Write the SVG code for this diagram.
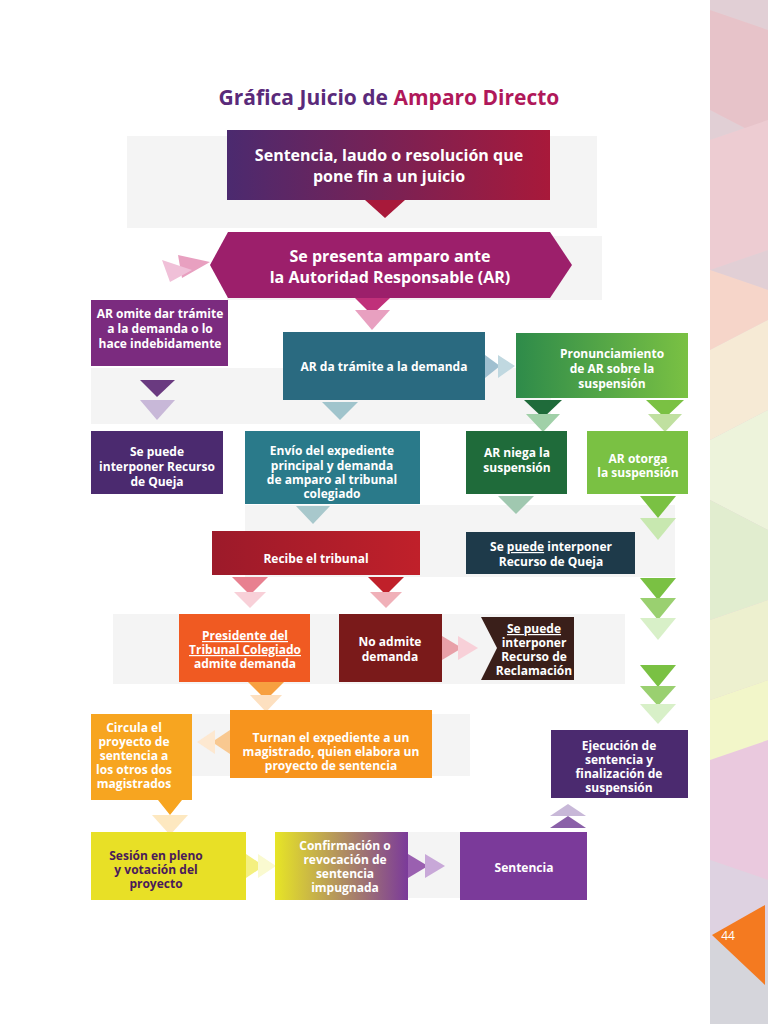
<svg xmlns="http://www.w3.org/2000/svg" width="768" height="1024" viewBox="0 0 768 1024">
<style>
text{font-family:"Open Sans","Liberation Sans",sans-serif;font-weight:bold;fill:#fff;text-anchor:middle}
.s{font-size:12px}.m{font-size:16px}
.pan{fill:#f4f4f4}
</style>
<defs>
<linearGradient id="g1" x1="0" x2="1"><stop offset="0" stop-color="#4b2a6f"/><stop offset="1" stop-color="#a8193a"/></linearGradient>
<linearGradient id="g2" x1="0" x2="1"><stop offset="0" stop-color="#e7e526"/><stop offset="1" stop-color="#7b3a9a"/></linearGradient>
<linearGradient id="g3" x1="0" x2="1"><stop offset="0" stop-color="#2e8b4a"/><stop offset="1" stop-color="#7ac143"/></linearGradient>
<linearGradient id="g4" x1="0" x2="1"><stop offset="0" stop-color="#9c1a2a"/><stop offset="1" stop-color="#c0202a"/></linearGradient>
</defs>
<rect width="768" height="1024" fill="#fff"/>
<g id="strip" opacity="0.75">
<rect x="710" y="0" width="58" height="1024" fill="#d8c0c8"/>
<polygon points="710,10 768,30 768,140 710,110" fill="#e0b0b8"/>
<polygon points="710,140 768,120 768,250 710,270" fill="#e8bcc4"/>
<polygon points="710,270 768,290 768,320 710,350" fill="#f4c8b8"/>
<polygon points="710,350 768,320 768,410 710,440" fill="#f4e4c8"/>
<polygon points="710,440 768,410 768,530 710,500" fill="#e8f0d0"/>
<polygon points="710,500 768,530 768,600 710,620" fill="#d8e8c0"/>
<polygon points="710,620 768,600 768,680 710,700" fill="#e8ecc0"/>
<polygon points="710,700 768,680 768,770 710,760" fill="#eef4b8"/>
<polygon points="710,760 768,740 768,880 710,860" fill="#e4b8d4"/>
<polygon points="710,860 768,880 768,960 710,940" fill="#d4c4d8"/>
<rect x="710" y="940" width="58" height="84" fill="#c8c8d0"/>
</g>
<g id="page"><polygon points="712,935 765,905 765,985" fill="#f47a20"/>
<text x="728" y="940" style="font-size:12px;font-weight:normal">44</text></g>
<text x="389" y="105" style="font-size:21px;fill:#5a2a7a">Gráfica Juicio de <tspan fill="#b0185a">Amparo Directo</tspan></text>
<g id="panels" class="pan">
<rect x="127" y="136" width="470" height="92"/>
<rect x="227" y="236" width="375" height="64"/>
<rect x="91" y="368" width="460" height="56"/>
<rect x="245" y="505" width="430" height="72"/>
<rect x="113" y="614" width="512" height="70"/>
<rect x="180" y="714" width="290" height="62"/>
<rect x="291" y="832" width="270" height="66"/>
</g>
<g id="connectors">
<polygon points="365,200 405,200 385,218" fill="#a8193a"/>
<polygon points="355,298 390,298 372,315" fill="#c0307a"/>
<polygon points="355,310 390,310 372,330" fill="#e8a0c0"/>
<polygon points="178,255 210,262 182,278" fill="#e8a0c0"/>
<polygon points="162,260 192,270 170,282" fill="#f0c0d8"/>
<polygon points="140,380 175,380 157,397" fill="#6a3a80"/>
<polygon points="140,400 175,400 157,420" fill="#c8b8d8"/>
<polygon points="485,355 500,366 485,378" fill="#a0c0d0"/>
<polygon points="498,355 515,366 498,378" fill="#c0d8e0"/>
<polygon points="322,402 358,402 340,420" fill="#a0c4cc"/>
<polygon points="524,400 562,400 543,418" fill="#1f6b3a"/>
<polygon points="526,414 560,414 543,432" fill="#a0d0a8"/>
<polygon points="646,400 684,400 665,418" fill="#7ac143"/>
<polygon points="648,414 682,414 665,432" fill="#c0e0a0"/>
<polygon points="498,496 534,496 516,514" fill="#a0c8b0"/>
<polygon points="296,506 330,506 313,524" fill="#a8c8cc"/>
<polygon points="640,496 676,496 658,518" fill="#7ac143"/>
<polygon points="640,518 676,518 658,540" fill="#c8e8b0"/>
<polygon points="640,578 676,578 658,600" fill="#7ac143"/>
<polygon points="640,598 676,598 658,620" fill="#9ad070"/>
<polygon points="640,618 676,618 658,640" fill="#d8f0c8"/>
<polygon points="640,665 676,665 658,687" fill="#7ac143"/>
<polygon points="640,686 676,686 658,706" fill="#9ad070"/>
<polygon points="640,704 676,704 658,724" fill="#d8f0c8"/>
<polygon points="232,577 268,577 250,595" fill="#e88090"/>
<polygon points="234,592 266,592 250,608" fill="#f8d0d8"/>
<polygon points="368,577 404,577 386,595" fill="#c0202a"/>
<polygon points="370,592 402,592 386,608" fill="#f0b0b8"/>
<polygon points="442,636 462,648 442,660" fill="#e8a0a8"/>
<polygon points="458,636 478,648 458,660" fill="#f8d0d8"/>
<polygon points="248,682 284,682 266,700" fill="#f7a040"/>
<polygon points="250,695 282,695 266,712" fill="#fde0c0"/>
<polygon points="230,730 212,742 230,754" fill="#f8c890"/>
<polygon points="215,730 197,742 215,754" fill="#fde8d0"/>
<polygon points="152,815 188,815 170,835" fill="#fde8c0"/>
<polygon points="246,854 264,866 246,878" fill="#f4f080"/>
<polygon points="258,854 276,866 258,878" fill="#fafad0"/>
<polygon points="408,854 428,866 408,878" fill="#9a60b0"/>
<polygon points="425,854 445,866 425,878" fill="#c8a8d8"/>
<polygon points="550,816 568,804 586,816" fill="#c8b8d8"/>
<polygon points="550,828 568,816 586,828" fill="#8a60a8"/>
</g>
<g id="n1"><rect x="227" y="130" width="323" height="70" fill="url(#g1)"/><text class="m" x="389" y="161">Sentencia, laudo o resolución que</text><text class="m" x="389" y="182">pone fin a un juicio</text></g>
<g id="n2"><polygon points="228,232 550,232 572,265 550,298 228,298 210,265" fill="#9c1f6b"/><text class="m" x="390" y="262">Se presenta amparo ante</text><text class="m" x="390" y="283">la Autoridad Responsable (AR)</text></g>
<g id="n3"><rect x="91" y="300" width="137" height="66" fill="#7b2b7f"/><text class="s" x="160" y="318">AR omite dar trámite</text><text class="s" x="160" y="333">a la demanda o lo</text><text class="s" x="160" y="348">hace indebidamente</text></g>
<g id="n4"><rect x="283" y="332" width="202" height="68" fill="#2a6a80"/><text class="s" x="384" y="371">AR da trámite a la demanda</text></g>
<g id="n5"><rect x="516" y="333" width="172" height="65" fill="url(#g3)"/><text class="s" x="612" y="358">Pronunciamiento</text><text class="s" x="612" y="373">de AR sobre la</text><text class="s" x="612" y="388">suspensión</text></g>
<g id="n6"><rect x="91" y="431" width="132" height="63" fill="#4b2a6f"/><text class="s" x="157" y="456">Se puede</text><text class="s" x="157" y="471">interponer Recurso</text><text class="s" x="157" y="486">de Queja</text></g>
<g id="n7"><rect x="245" y="431" width="175" height="73" fill="#2a7a8a"/><text class="s" x="332" y="455">Envío del expediente</text><text class="s" x="332" y="470">principal y demanda</text><text class="s" x="332" y="484">de amparo al tribunal</text><text class="s" x="332" y="498">colegiado</text></g>
<g id="n8"><rect x="466" y="431" width="101" height="63" fill="#1f6b3a"/><text class="s" x="517" y="457">AR niega la</text><text class="s" x="517" y="472">suspensión</text></g>
<g id="n9"><rect x="587" y="431" width="101" height="63" fill="#7ac143"/><text class="s" x="638" y="463">AR otorga</text><text class="s" x="638" y="477">la suspensión</text></g>
<g id="n10"><rect x="466" y="532" width="169" height="42" fill="#1e3a4a"/><text x="551" y="551" style="font-size:12px">Se <tspan text-decoration="underline">puede</tspan> interponer</text><text x="551" y="566" style="font-size:12px">Recurso de  Queja</text></g>
<g id="n11"><rect x="212" y="531" width="208" height="44" fill="url(#g4)"/><text class="s" x="316" y="563">Recibe el tribunal</text></g>
<g id="n12"><rect x="179" y="614" width="131" height="68" fill="#f05a22"/><text class="s" x="245" y="640" text-decoration="underline">Presidente del</text><text class="s" x="245" y="654" text-decoration="underline">Tribunal Colegiado</text><text class="s" x="245" y="668">admite demanda</text></g>
<g id="n13"><rect x="339" y="614" width="103" height="68" fill="#7a1a1a"/><text class="s" x="390" y="646">No admite</text><text class="s" x="390" y="661">demanda</text></g>
<g id="n14"><polygon points="481,617 574,617 574,680 481,680 497,648" fill="#3a1f1a"/><text x="534" y="633" style="font-size:12px" text-decoration="underline">Se puede</text><text x="534" y="647" style="font-size:12px">interponer</text><text x="534" y="661" style="font-size:12px">Recurso de</text><text x="534" y="675" style="font-size:12px">Reclamación</text></g>
<g id="n15"><rect x="230" y="710" width="202" height="68" fill="#f7941d"/><text class="s" x="331" y="742">Turnan el expediente a un</text><text class="s" x="331" y="756">magistrado, quien elabora un</text><text class="s" x="331" y="770">proyecto de sentencia</text></g>
<g id="n16"><polygon points="91,714 192,714 192,800 182,800 170,815 158,800 91,800" fill="#f7a520"/><text class="s" x="134" y="732">Circula el</text><text class="s" x="134" y="746">proyecto de</text><text class="s" x="134" y="760">sentencia a</text><text class="s" x="134" y="774">los otros dos</text><text class="s" x="134" y="788">magistrados</text></g>
<g id="n17"><rect x="551" y="730" width="137" height="68" fill="#4b2a6f"/><text class="s" x="619" y="750">Ejecución de</text><text class="s" x="619" y="764">sentencia y</text><text class="s" x="619" y="778">finalización de</text><text class="s" x="619" y="792">suspensión</text></g>
<g id="n18"><rect x="91" y="832" width="155" height="68" fill="#e8e026"/><text class="s" x="156" y="860" style="fill:#4a1a5a">Sesión en pleno</text><text class="s" x="156" y="874" style="fill:#4a1a5a">y votación del</text><text class="s" x="156" y="888" style="fill:#4a1a5a">proyecto</text></g>
<g id="n19"><rect x="275" y="832" width="133" height="68" fill="url(#g2)"/><text class="s" x="345" y="850">Confirmación o</text><text class="s" x="345" y="864">revocación de</text><text class="s" x="345" y="878">sentencia</text><text class="s" x="345" y="892">impugnada</text></g>
<g id="n20"><rect x="460" y="832" width="127" height="68" fill="#7b3a9a"/><text class="s" x="524" y="872">Sentencia</text></g>
</svg>
